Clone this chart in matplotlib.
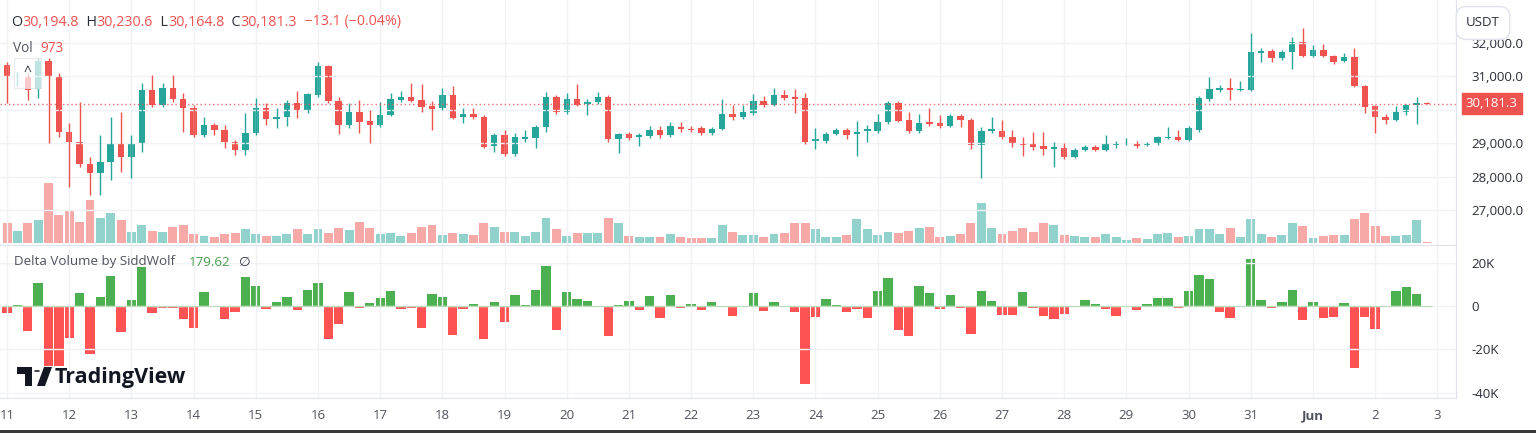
import numpy as np
import matplotlib
matplotlib.use("Agg")
import matplotlib.pyplot as plt
from matplotlib.patches import Rectangle, Polygon, Circle

plt.rcParams['font.family'] = ['Open Sans', 'DejaVu Sans']

# 4h candles, BTC/USDT, May 11 -> Jun 2
opens = [31340, 30990, 31010, 30620, 31460, 30980, 29330, 29030, 28370, 28100,
         28430, 29000, 28580, 29000, 30590, 30140, 30650, 30320, 30050, 29240,
         29540, 29390, 29030, 28790, 29300, 30050, 29720, 29780, 30200, 29960,
         30440, 31310, 30260, 29540, 29930, 29660, 29540, 29840, 30290, 30380,
         30290, 30110, 30050, 30440, 29780, 29870, 29780, 28910, 29240, 28670,
         29120, 29150, 29480, 30380, 29930, 30320, 30170, 30230, 30380, 29120,
         29270, 29180, 29210, 29390, 29240, 29480, 29420, 29450, 29300, 29420,
         29870, 29780, 29900, 30260, 30140, 30440, 30380, 30350, 29060, 29060,
         29270, 29390, 29270, 29360, 29360, 29630, 30200, 29690, 29360, 29630,
         29600, 29510, 29810, 29690, 28940, 29360, 29360, 29180, 29000, 28970,
         28910, 28820, 28850, 28580, 28790, 28880, 28790, 28940, 28970, 29000,
         28940, 28970, 29150, 29180, 29090, 29390, 30320, 30590, 30650, 30590,
         30590, 31700, 31760, 31550, 31730, 32030, 31610, 31790, 31610, 31460,
         31580, 30710, 30110, 29780, 29690, 29930, 30140, 30194.8]
highs = [31430, 31130, 31100, 31550, 31550, 31100, 29600, 30230, 28580, 29240,
         29780, 29930, 29240, 30800, 31040, 30800, 31040, 30500, 30140, 29780,
         29600, 29540, 29090, 29900, 30350, 30200, 30050, 30290, 30560, 30500,
         31430, 31340, 30380, 30200, 30290, 29990, 30230, 30500, 30560, 30800,
         30770, 30260, 30650, 30710, 30050, 30050, 29840, 29300, 29390, 29300,
         29390, 29540, 30530, 30440, 30500, 30770, 30320, 30530, 30440, 29300,
         29330, 29300, 29510, 29510, 29630, 29630, 29510, 29510, 29480, 30320,
         30140, 30140, 30470, 30410, 30650, 30590, 30620, 30500, 29450, 29330,
         29450, 29450, 29660, 29540, 29870, 30260, 30260, 29930, 29870, 30050,
         29840, 29870, 29870, 29750, 29480, 29780, 29690, 29390, 29180, 29330,
         29330, 29030, 29000, 28850, 28940, 28940, 29240, 29060, 29150, 29060,
         29030, 29210, 29480, 29390, 29510, 30410, 30980, 30740, 30950, 30860,
         32300, 31850, 31820, 31790, 32180, 32450, 31940, 31970, 31640, 31700,
         31850, 30740, 30140, 29870, 30110, 30170, 30380, 30230.6]
lows = [30200, 30700, 30290, 30350, 29000, 29180, 27680, 28280, 27440, 27440,
        27890, 28130, 27950, 28730, 30080, 30080, 30230, 29330, 29180, 29180,
        29240, 28850, 28640, 28640, 29240, 29540, 29450, 29510, 29750, 29900,
        30380, 30200, 29270, 29450, 29300, 29000, 29480, 29810, 30230, 30230,
        29930, 29390, 29990, 29720, 29600, 29720, 28850, 28730, 28610, 28610,
        29030, 28850, 29330, 29870, 29870, 30110, 29840, 30170, 29030, 28700,
        29090, 28910, 29150, 29150, 29180, 29330, 29330, 29240, 29240, 29390,
        29690, 29720, 29840, 30080, 30110, 30290, 29900, 28970, 28820, 29000,
        29240, 29120, 28610, 29030, 29300, 29570, 29630, 29300, 29300, 29510,
        29450, 29480, 29480, 28820, 27950, 29300, 29120, 28880, 28610, 28790,
        28640, 28280, 28520, 28550, 28760, 28760, 28760, 28850, 28940, 28850,
        28910, 28940, 29120, 29060, 29060, 29330, 30260, 30530, 30290, 30560,
        30560, 31430, 31430, 31490, 31220, 31580, 31580, 31580, 31370, 31430,
        30680, 29900, 29300, 29570, 29660, 29840, 29570, 30164.8]
closes = [30980, 31010, 30590, 31460, 30980, 29330, 29030, 28370, 28100, 28430,
          29000, 28580, 29000, 30590, 30140, 30650, 30320, 30050, 29240, 29540,
          29390, 29030, 28790, 29300, 30050, 29720, 29780, 30200, 29960, 30470,
          31310, 30260, 29540, 29930, 29630, 29540, 29840, 30320, 30380, 30260,
          30080, 30020, 30440, 29750, 29870, 29780, 28880, 29240, 28670, 29180,
          29180, 29480, 30380, 29930, 30320, 30140, 30230, 30380, 29120, 29270,
          29150, 29240, 29390, 29240, 29510, 29420, 29390, 29300, 29420, 29870,
          29780, 29930, 30260, 30140, 30440, 30350, 30320, 29030, 29120, 29270,
          29390, 29240, 29330, 29420, 29630, 30200, 29660, 29360, 29600, 29570,
          29510, 29810, 29690, 28940, 29360, 29420, 29180, 28970, 28940, 28880,
          28820, 28880, 28580, 28790, 28880, 28790, 28970, 29000, 29000, 28910,
          29000, 29180, 29180, 29090, 29450, 30350, 30620, 30650, 30590, 30620,
          31730, 31760, 31550, 31730, 32030, 31610, 31790, 31610, 31430, 31580,
          30710, 30080, 29780, 29690, 29930, 30140, 30200, 30181.3]
# volume in thousands
volume = [20, 12, 20, 23, 60, 28, 32, 21, 43, 25,
          30, 23, 11, 18, 12, 11, 16, 18, 9, 7,
          6, 9, 10, 14, 9, 7, 7, 9, 14, 9,
          14, 10, 15, 13, 21, 15, 9, 10, 7, 10,
          16, 18, 8, 10, 9, 8, 20, 16, 11, 11,
          7, 11, 25, 14, 7, 10, 10, 10, 25, 20,
          7, 6, 6, 6, 9, 6, 5, 5, 5, 18,
          11, 8, 8, 6, 9, 10, 20, 20, 14, 6,
          6, 8, 24, 14, 8, 11, 10, 12, 15, 16,
          6, 7, 9, 20, 40, 15, 9, 12, 15, 11,
          20, 18, 8, 7, 6, 6, 9, 6, 3, 5,
          4, 9, 10, 6, 7, 14, 14, 9, 15, 6,
          24, 9, 6, 8, 20, 17, 5, 7, 8, 8,
          24, 30, 17, 7, 7, 8, 23, 0.973]
# delta volume in thousands
delta = [-3.4, 0.5, -11.4, 10.5, -27.7, -27.7, -14.6, 6.2, -22.3, 4.0,
         13.9, -11.9, 2.8, 18.0, -3.1, -1.1, -1.1, -6.2, -10.3, 6.6,
         0.2, -6.2, -2.6, 13.6, 9.2, -1.4, 2.0, 4.0, -1.8, 7.4,
         10.5, -15.4, -8.3, 6.5, -1.1, 1.2, 3.5, 6.9, -1.4, -1.1,
         -10.3, 5.4, 4.0, -13.4, -1.5, 0.9, -15.4, 1.7, -7.2, 5.0,
         0.3, 7.4, 18.6, -11.1, 6.3, 3.2, 2.5, -0.6, -13.7, 0.3,
         2.2, -1.8, 4.6, -5.7, 5.1, -0.8, 0.8, -1.8, 1.8, 0.2,
         -4.5, 0.2, 5.9, -2.2, 1.7, 0.1, -2.9, -36.2, -4.9, 3.2,
         0.5, -2.9, -1.2, -5.5, 6.9, 13.1, -11.1, -13.9, 9.4, 6.2,
         -1.4, 4.9, -0.8, -13.1, 6.9, 2.5, -4.2, -4.2, 6.6, -1.1,
         -4.6, -6.2, -3.7, 0.1, 2.8, 0.8, -1.4, -4.6, 0.1, -1.8,
         0.8, 3.5, 3.5, -1.1, 6.9, 14.3, 12.5, -2.6, -5.7, -0.3,
         21.6, 2.8, -1.1, 1.8, 7.4, -6.5, 2.0, -5.4, -4.9, 1.2,
         -28.5, -4.9, -10.8, 0.1, 6.9, 8.9, 5.4, 0.18]
day_labels = ['11', '12', '13', '14', '15', '16', '17', '18', '19', '20', '21', '22',
              '23', '24', '25', '26', '27', '28', '29', '30', '31', 'Jun', '2', '3']
price_ticks = [27000, 28000, 29000, 30000, 31000, 32000]
delta_ticks = [20, 0, -20, -40]
delta_labels = ['20K', '0', '-20K', '-40K']
last_price = 30181.3

o = np.array(opens); h = np.array(highs); l = np.array(lows); c = np.array(closes)
vol = np.array(volume); dv = np.array(delta)
x = np.arange(len(o))
up = c >= o

UP, DN = '#26a69a', '#ef5350'
VUP, VDN = '#92d2cc', '#f7a9a7'
GRID = '#f0f2f5'
TXT = '#2a2e39'

W, H = 1536, 433
fig = plt.figure(figsize=(W / 100, H / 100), dpi=100)

def rect(x0, y0, x1, y1):
    return [x0 / W, 1 - y1 / H, (x1 - x0) / W, (y1 - y0) / H]

xlim = (-0.68, 139.8)

# price panel + volume overlay
ax_v = fig.add_axes(rect(0, 0, 1456, 245))
ax = fig.add_axes(rect(0, 0, 1456, 245))
ax.set_zorder(2)
ax_v.set_zorder(1)
ax.patch.set_visible(False)

ax_v.bar(x, vol, width=0.86, color=np.where(up, VUP, VDN))
ax_v.set_ylim(-2, 243)
ax_v.set_xlim(*xlim)
ax_v.axis('off')

ax.vlines(x, l, h, color=np.where(up, UP, DN), lw=1)
body = np.maximum(np.abs(c - o), 25)
ax.bar(x, body, bottom=np.minimum(o, c), width=0.62, color=np.where(up, UP, DN))
ax.axhline(last_price, color=DN, lw=1, ls=(0, (1, 2)), alpha=0.8)
ax.set_xlim(*xlim)
ax.set_ylim(25950, 33285)
ax.set_yticks(price_ticks)
# the 30,000.0 label sits under the last-price tag
ax.set_yticklabels(['' if p == 30000 else f'{p:,.1f}' for p in price_ticks])
ax.yaxis.tick_right()
ax.tick_params(axis='y', length=0, pad=11, labelsize=9.5, labelcolor=TXT)
ax.set_xticks(np.arange(0, 139, 6))
ax.tick_params(axis='x', length=0, labelbottom=False)
ax.grid(True, color=GRID, lw=1)
for s in ax.spines.values():
    s.set_visible(False)
ax.spines['right'].set_visible(True)
ax.spines['right'].set_color('#e0e3eb')
ax.spines['bottom'].set_visible(True)
ax.spines['bottom'].set_color('#e0e3eb')

ax.annotate(f'{last_price:,.1f}', xy=(1.0, last_price), xycoords=('axes fraction', 'data'),
            xytext=(7, 0), textcoords='offset points', ha='left', va='center',
            color='white', fontsize=9.5,
            bbox=dict(boxstyle='square,pad=0.3', fc=DN, ec=DN), annotation_clip=False)

# delta volume panel
ax_d = fig.add_axes(rect(0, 245, 1456, 398))
ax_d.bar(x, dv, width=0.9, color=np.where(dv >= 0, '#4caf50', '#ff5252'))
ax_d.hlines(0, -0.5, x[-1] + 0.5, color='#b9dcb9', lw=0.8)
ax_d.set_xlim(*xlim)
ax_d.set_ylim(-42.5, 28.2)
ax_d.set_yticks(delta_ticks)
ax_d.set_yticklabels(delta_labels)
ax_d.yaxis.tick_right()
ax_d.tick_params(axis='y', length=0, pad=11, labelsize=9.5, labelcolor=TXT)
ax_d.set_xticks(np.arange(0, 139, 6))
ax_d.set_xticklabels(day_labels)
for t in ax_d.get_xticklabels():
    if t.get_text() == 'Jun':
        t.set_fontweight('bold')
ax_d.tick_params(axis='x', length=0, pad=8, labelsize=9.5, labelcolor='#50535e')
ax_d.grid(True, color=GRID, lw=1)
for s in ax_d.spines.values():
    s.set_visible(False)
ax_d.spines['right'].set_visible(True)
ax_d.spines['right'].set_color('#e0e3eb')
ax_d.spines['bottom'].set_visible(True)
ax_d.spines['bottom'].set_color('#e0e3eb')

# legends / header text
def ftext(px, py, s, **kw):
    return fig.text(px / W, 1 - py / H, s, va='center', **kw)

hdr = [('O', TXT), ('30,194.8', DN), ('  H', TXT), ('30,230.6', DN), ('  L', TXT),
       ('30,164.8', DN), ('  C', TXT), ('30,181.3', DN), ('  −13.1 (−0.04%)', DN)]
fig.canvas.draw()
r = fig.canvas.get_renderer()
px = 11
for s, col in hdr:
    t = ftext(px, 22, s, color=col, fontsize=10.3)
    px += t.get_window_extent(r).width

t = ftext(13, 49, 'Vol', color='#50535e', fontsize=9.8)
ftext(13 + t.get_window_extent(r).width + 8, 49, '973', color=DN, fontsize=9.8)

t = ftext(14, 262, 'Delta Volume by SiddWolf', color='#50535e', fontsize=9.6)
px = 14 + t.get_window_extent(r).width + 14
t = ftext(px, 262, '179.62', color='#43a047', fontsize=9.6)
ftext(px + t.get_window_extent(r).width + 8, 262, '∅', color=TXT, fontsize=9.6)

# collapse button overlay
fig.patches.append(Rectangle((14 / W, 1 - 88 / H), 27 / W, 30 / H, transform=fig.transFigure,
                             fc='white', ec='#e0e3eb', alpha=0.7, lw=0.8, zorder=5))
ftext(27, 73, '^', color=TXT, fontsize=10, ha='center', zorder=6)

# USDT box
ftext(1466, 23, 'USDT', color=TXT, fontsize=9.5,
      bbox=dict(boxstyle='round,pad=0.75', fc='white', ec='#e0e3eb'), zorder=6)

# TradingView logo
k = fig.transFigure
fig.patches.append(Polygon([(17 / W, 1 - 367 / H), (32 / W, 1 - 367 / H), (32 / W, 1 - 386 / H),
                            (25 / W, 1 - 386 / H), (25 / W, 1 - 374 / H), (17 / W, 1 - 374 / H)],
                           closed=True, transform=k, fc='#131722', zorder=6))
fig.patches.append(Circle((37 / W, 1 - 371 / H), 3 / W, transform=k, fc='#131722', zorder=6))
fig.patches.append(Polygon([(44 / W, 1 - 367 / H), (52 / W, 1 - 367 / H), (45 / W, 1 - 386 / H),
                            (37 / W, 1 - 386 / H)], closed=True, transform=k, fc='#131722', zorder=6))
ftext(55, 377, 'TradingView', color='#131722', fontsize=15.5, fontweight='bold', zorder=6)

# bottom strip
fig.patches.append(Rectangle((0, 0), 1, 3 / H, transform=k, fc='#3a3a3a', zorder=6))

fig.savefig('out.png', dpi=100, facecolor='white')
